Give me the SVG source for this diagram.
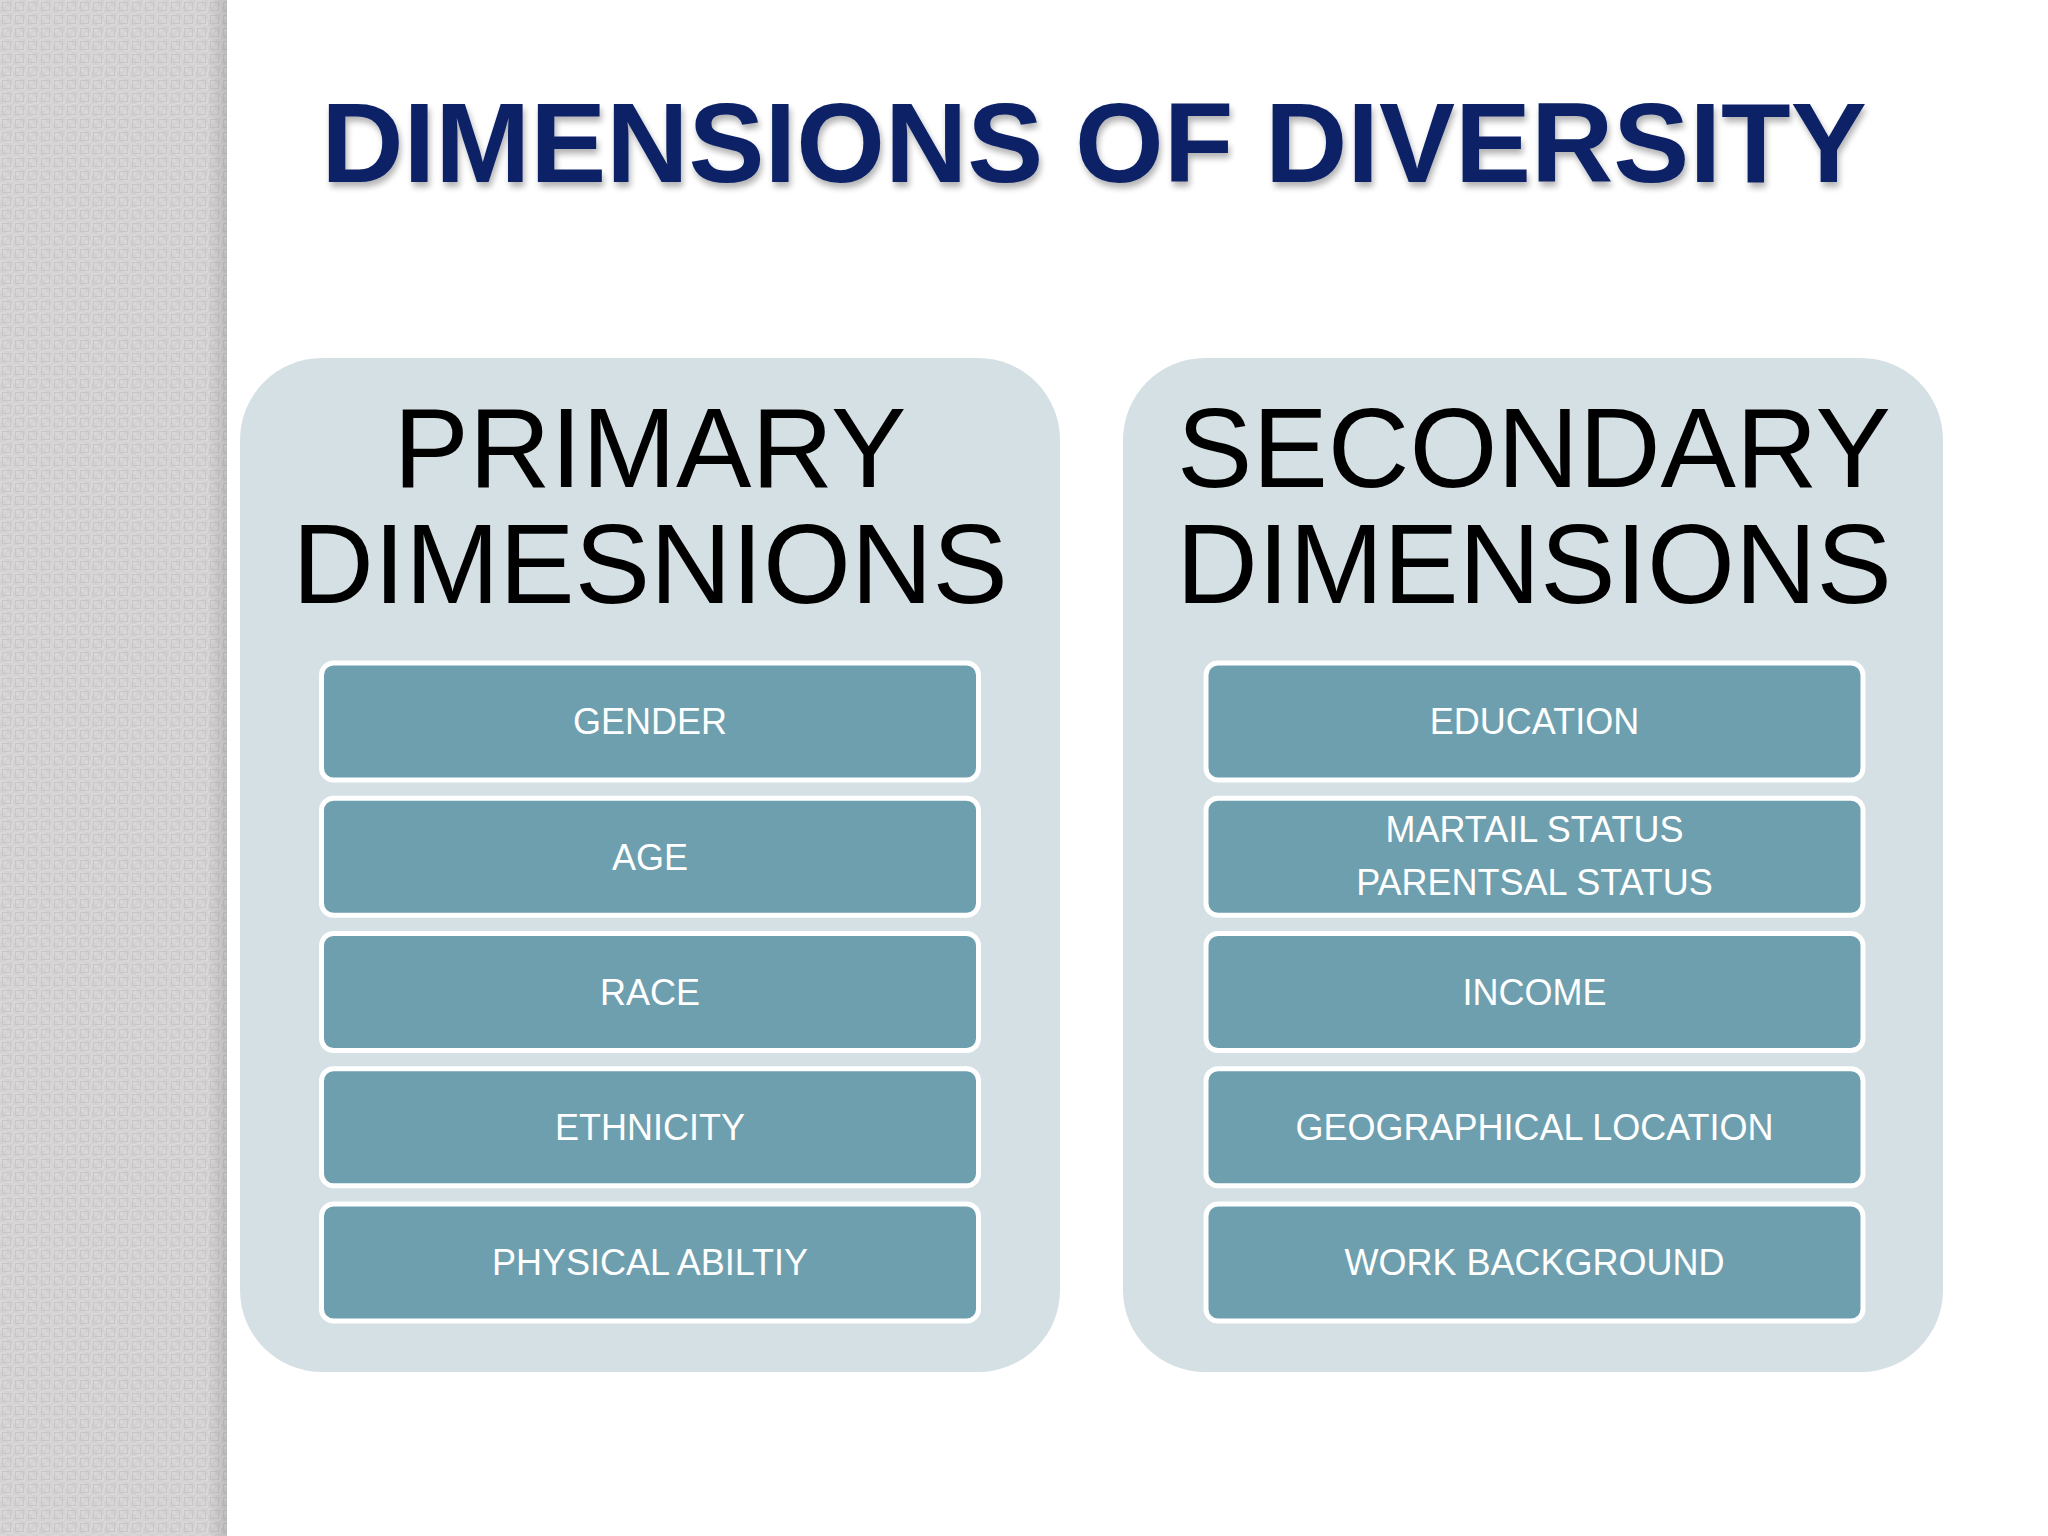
<svg xmlns="http://www.w3.org/2000/svg" width="2048" height="1536" viewBox="0 0 2048 1536">
<defs>
<pattern id="tex" x="0" y="0" width="13" height="13" patternUnits="userSpaceOnUse">
<rect width="13" height="13" fill="#d3d1d1"/>
<rect x="0" y="0" width="6.5" height="6.5" fill="#d9d7d7"/>
<rect x="6.5" y="6.5" width="6.5" height="6.5" fill="#d9d7d7"/>
<rect x="2.5" y="2.5" width="8" height="8" fill="none" stroke="#c8c6c6" stroke-width="1"/>
</pattern>
<linearGradient id="edge" x1="0" y1="0" x2="1" y2="0">
<stop offset="0" stop-color="#000" stop-opacity="0"/>
<stop offset="1" stop-color="#000" stop-opacity="0.12"/>
</linearGradient>
<filter id="tshadow" x="-5%" y="-20%" width="110%" height="150%">
<feGaussianBlur in="SourceAlpha" stdDeviation="3"/>
<feOffset dx="2" dy="5" result="b"/>
<feComponentTransfer><feFuncA type="linear" slope="0.3"/></feComponentTransfer>
<feMerge><feMergeNode/><feMergeNode in="SourceGraphic"/></feMerge>
</filter>
</defs>
<style>
.panel{fill:#d5e0e4;}
.box{fill:#6e9fae;stroke:#ffffff;stroke-width:5;}
.head{font-family:"Liberation Sans",Arial,sans-serif;font-size:113px;fill:#000;text-anchor:middle;}
.lbl{font-family:"Liberation Sans",Arial,sans-serif;font-size:36px;fill:#ffffff;text-anchor:middle;}
.title{font-family:"Liberation Sans",Arial,sans-serif;font-weight:bold;font-size:114px;fill:#0e2366;text-anchor:middle;}
</style>
<rect width="2048" height="1536" fill="#ffffff"/>
<rect x="0" y="0" width="227" height="1536" fill="url(#tex)"/>
<rect x="207" y="0" width="20" height="1536" fill="url(#edge)"/>
<text class="title" x="1094" y="182" filter="url(#tshadow)">DIMENSIONS OF DIVERSITY</text>

<g id="primary">
<rect class="panel" x="240" y="358" width="820" height="1014" rx="82" ry="82"/>
<text class="head" x="650" y="487">PRIMARY</text>
<text class="head" x="650" y="603">DIMESNIONS</text>
</g>
<g id="gender"><rect class="box" x="321.5" y="663" width="657" height="117" rx="12"/><text class="lbl" x="650" y="734">GENDER</text></g>
<g id="age"><rect class="box" x="321.5" y="798.25" width="657" height="117" rx="12"/><text class="lbl" x="650" y="869.5">AGE</text></g>
<g id="race"><rect class="box" x="321.5" y="933.5" width="657" height="117" rx="12"/><text class="lbl" x="650" y="1004.5">RACE</text></g>
<g id="ethnicity"><rect class="box" x="321.5" y="1068.75" width="657" height="117" rx="12"/><text class="lbl" x="650" y="1140">ETHNICITY</text></g>
<g id="physical"><rect class="box" x="321.5" y="1204" width="657" height="117" rx="12"/><text class="lbl" x="650" y="1275">PHYSICAL ABILTIY</text></g>

<g id="secondary">
<rect class="panel" x="1123" y="358" width="820" height="1014" rx="82" ry="82"/>
<text class="head" x="1534" y="487">SECONDARY</text>
<text class="head" x="1534" y="603">DIMENSIONS</text>
</g>
<g id="education"><rect class="box" x="1206" y="663" width="657" height="117" rx="12"/><text class="lbl" x="1534.5" y="734">EDUCATION</text></g>
<g id="status"><rect class="box" x="1206" y="798.25" width="657" height="117" rx="12"/><text class="lbl" x="1534.5" y="842">MARTAIL STATUS</text><text class="lbl" x="1534.5" y="895">PARENTSAL STATUS</text></g>
<g id="income"><rect class="box" x="1206" y="933.5" width="657" height="117" rx="12"/><text class="lbl" x="1534.5" y="1004.5">INCOME</text></g>
<g id="location"><rect class="box" x="1206" y="1068.75" width="657" height="117" rx="12"/><text class="lbl" x="1534.5" y="1140">GEOGRAPHICAL LOCATION</text></g>
<g id="work"><rect class="box" x="1206" y="1204" width="657" height="117" rx="12"/><text class="lbl" x="1534.5" y="1275">WORK BACKGROUND</text></g>
<g id="connectors"/>
</svg>
